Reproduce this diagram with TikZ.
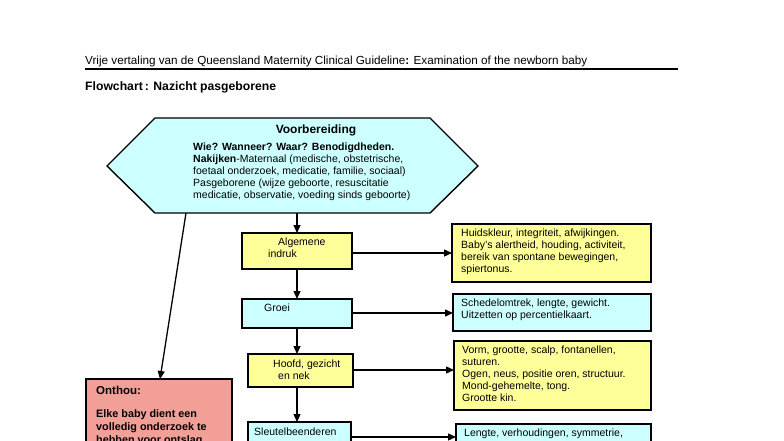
\documentclass[tikz,border=0pt]{standalone}
\usepackage{fontspec}
\setmainfont{Liberation Sans}
\usetikzlibrary{arrows.meta}
\definecolor{lyel}{HTML}{FFFF99}
\definecolor{lcya}{HTML}{CCFFFF}
\definecolor{lpink}{HTML}{F2A097}
\begin{document}
\begin{tikzpicture}[x=1pt,y=-1pt,
  box/.style={draw,line width=1.4pt,inner sep=0pt},
  yel/.style={fill=lyel},
  cya/.style={fill=lcya},
  txt/.style={font=\fontsize{10.5}{12}\selectfont,align=left,anchor=north west,inner sep=0pt},
  arr/.style={-{Triangle[length=8pt,width=7pt]},line width=1.3pt}]
\useasboundingbox (0,0) rectangle (784,441);
\node[anchor=base west,inner sep=0pt,font=\fontsize{11.7}{12}\selectfont] (hdr) at (85,65) {Vrije vertaling van de Queensland Maternity Clinical Guideline\textbf{:} Examination of the newborn baby};
\draw[line width=1.2pt] (85,69) -- (678,69);
\node[anchor=base west,inner sep=0pt,font=\bfseries\fontsize{12.2}{13}\selectfont] (ttl) at (85,91) {Flowchart\,: Nazicht pasgeborene};
% hexagon
\draw[line width=1.4pt,fill=lcya] (107,166) -- (155,118) -- (430,118) -- (478,166) -- (430,213) -- (155,213) -- cycle;
\coordinate (hexb) at (297,213);
\coordinate (hexl) at (186,213);
\node[inner sep=0pt,font=\bfseries\fontsize{12}{13}\selectfont] (vb) at (316,130) {Voorbereiding};
\node[txt] (vt) at (193,143) {\textbf{Wie? Wanneer? Waar? Benodigdheden.}\\\textbf{Nakijken}-Maternaal (medische, obstetrische,\\foetaal onderzoek, medicatie, familie, sociaal)\\Pasgeborene (wijze geboorte, resuscitatie\\medicatie, observatie, voeding sinds geboorte)};
% left boxes
\draw[box,yel] (242,233) rectangle (352,269);
\node[txt] at (278,238) {Algemene}; \node[txt] at (268,250) {indruk};
\draw[box,cya] (242,299) rectangle (352,328);
\node[txt] at (264,304) {Groei};
\draw[box,yel] (248,354) rectangle (353,387);
\node[txt] at (273,360) {Hoofd, gezicht}; \node[txt] at (278,372) {en nek};
\draw[box,cya] (248,422) rectangle (351,450);
\node[txt] at (254,428) {Sleutelbeenderen};
% right boxes
\draw[box,yel] (452,224) rectangle (651,282);
\node[txt] at (461,229) {Huidskleur, integriteit, afwijkingen.\\Baby's alertheid, houding, activiteit,\\bereik van spontane bewegingen,\\spiertonus.};
\draw[box,cya] (453,294) rectangle (651,331);
\node[txt] at (461,299) {Schedelomtrek, lengte, gewicht.\\Uitzetten op percentielkaart.};
\draw[box,yel] (454,341) rectangle (651,410);
\node[txt] at (462,346) {Vorm, grootte, scalp, fontanellen,\\suturen.\\Ogen, neus, positie oren, structuur.\\Mond-gehemelte, tong.\\Grootte kin.};
\draw[box,cya] (456,424) rectangle (651,460);
\node[txt] at (464,429) {Lengte, verhoudingen, symmetrie,};
% Onthou
\draw[box,fill=lpink] (86,379) rectangle (232,460);
\node[txt,font=\bfseries\fontsize{11.5}{13}\selectfont] at (96,386) {Onthou:};
\node[txt,font=\bfseries\fontsize{10.8}{13}\selectfont] at (96,409) {Elke baby dient een\\volledig onderzoek te\\hebben voor ontslag};
% arrows
\draw[arr] (hexb) -- (297,233);
\draw[arr] (297,269) -- (297,299);
\draw[arr] (297,328) -- (297,354);
\draw[arr] (297,387) -- (297,422);
\draw[arr] (hexl) -- (160,379);
\draw[arr] (352,253) -- (452,253);
\draw[arr] (352,313) -- (453,313);
\draw[arr] (353,370) -- (454,370);
\draw[arr] (351,437) -- (456,437);
\end{tikzpicture}
\end{document}
